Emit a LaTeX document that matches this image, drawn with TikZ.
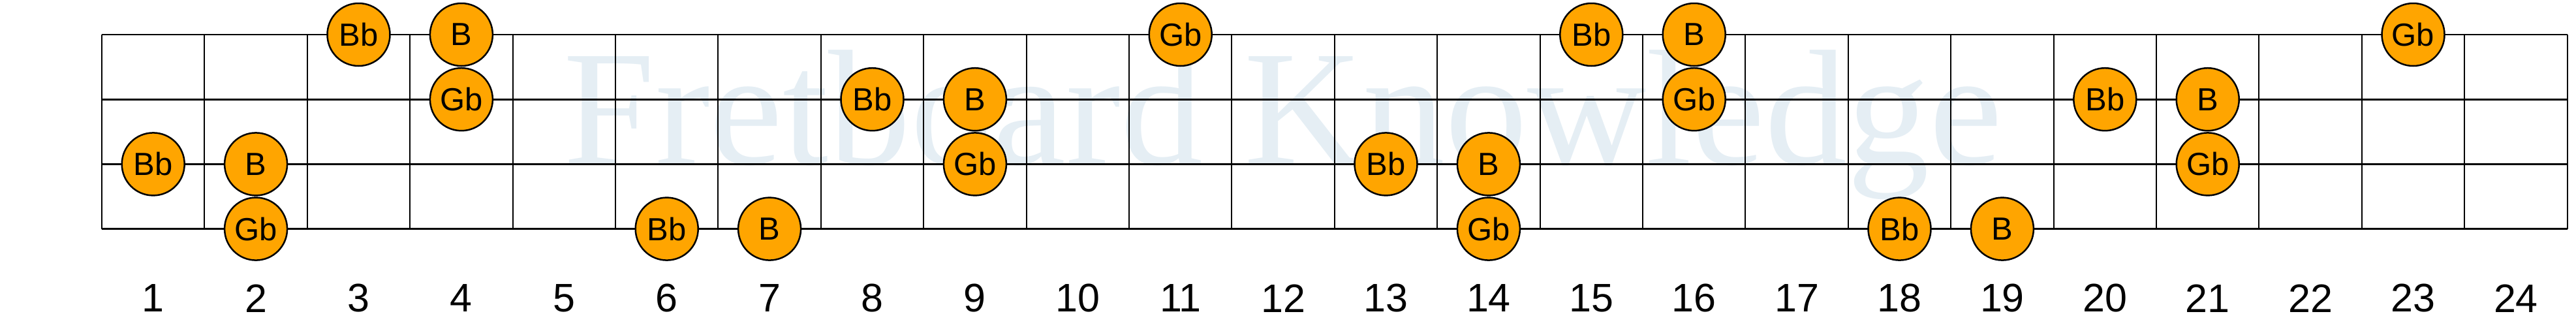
\documentclass[tikz,border=0pt]{standalone}
\usepackage{fontspec}
\setmainfont{Liberation Sans}
\newfontfamily\wmfont{Liberation Serif}
\usepackage{xcolor}
\usepackage{tikz}

\definecolor{noteorange}{RGB}{255,165,0}
\definecolor{wmblue}{RGB}{229,238,244}

\begin{document}
\begin{tikzpicture}[x=157.4pt, y=-99.2pt,
    note/.style={circle, draw=black, line width=2.5pt, fill=noteorange, minimum size=96pt, inner sep=0pt, font=\fontsize{49}{49}\selectfont},
    fretnum/.style={inner sep=0pt, font=\fontsize{61}{61}\selectfont},
    string/.style={line width=2.7pt, black},
    fretline/.style={line width=2pt, black}]
        \useasboundingbox (-0.9911, -0.5343) rectangle (24.0851, 4.5665);

        % watermark
        \node[anchor=base, inner sep=0pt, text=wmblue, font=\wmfont\fontsize{252}{252}\selectfont] (wm) at (11.5, 2) {Fretboard Knowledge};

        % frets and fret numbers
        \foreach \f in {0,...,24}
            \draw[fretline] (\f, 0) -- (\f, 3);
        \foreach \f in {1,...,24}
            \node[fretnum] (f\f) at (\f-0.5, 4.07) {\f};

        % strings G D A E
        \draw[string] (0, 0) -- (24, 0);
        \draw[string] (0, 1) -- (24, 1);
        \draw[string] (0, 2) -- (24, 2);
        \draw[string] (0, 3) -- (24, 3);

        % G string
        \node[note] (g3) at (2.5, 0) {Bb};
        \node[note] (g4) at (3.5, 0) {B};
        \node[note] (g11) at (10.5, 0) {Gb};
        \node[note] (g15) at (14.5, 0) {Bb};
        \node[note] (g16) at (15.5, 0) {B};
        \node[note] (g23) at (22.5, 0) {Gb};

        % D string
        \node[note] (d4) at (3.5, 1) {Gb};
        \node[note] (d8) at (7.5, 1) {Bb};
        \node[note] (d9) at (8.5, 1) {B};
        \node[note] (d16) at (15.5, 1) {Gb};
        \node[note] (d20) at (19.5, 1) {Bb};
        \node[note] (d21) at (20.5, 1) {B};

        % A string
        \node[note] (a1) at (0.5, 2) {Bb};
        \node[note] (a2) at (1.5, 2) {B};
        \node[note] (a9) at (8.5, 2) {Gb};
        \node[note] (a13) at (12.5, 2) {Bb};
        \node[note] (a14) at (13.5, 2) {B};
        \node[note] (a21) at (20.5, 2) {Gb};

        % E string
        \node[note] (e2) at (1.5, 3) {Gb};
        \node[note] (e6) at (5.5, 3) {Bb};
        \node[note] (e7) at (6.5, 3) {B};
        \node[note] (e14) at (13.5, 3) {Gb};
        \node[note] (e18) at (17.5, 3) {Bb};
        \node[note] (e19) at (18.5, 3) {B};
    \end{tikzpicture}
\end{document}
